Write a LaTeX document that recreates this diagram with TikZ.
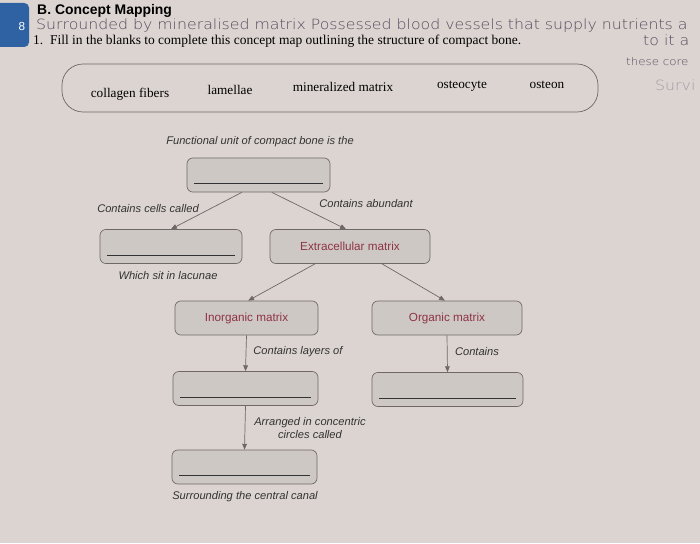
\documentclass[tikz,border=0pt]{standalone}
\usepackage{fontspec}
\setmainfont{Liberation Serif}
\setsansfont{Liberation Sans}
\newfontfamily\handfont[FakeStretch=1.12]{DejaVu Sans ExtraLight}
\usetikzlibrary{arrows.meta,positioning}
\definecolor{paper}{HTML}{DCD4D0}
\definecolor{boxfill}{HTML}{CEC8C5}
\definecolor{boxedge}{HTML}{6F6866}
\definecolor{maroon}{HTML}{8E3344}
\definecolor{pen}{HTML}{544A60}
\definecolor{tabblue}{HTML}{2F62A3}

\begin{document}
\begin{tikzpicture}[x=0.3mm,y=-0.3mm,
  conceptbox/.style={draw=boxedge,fill=boxfill,rounded corners=5pt,line width=0.6pt,
    minimum height=10.2mm,inner sep=0pt,text=maroon,font=\sffamily\fontsize{10}{11}\selectfont},
  blank/.style={draw=black!80,line width=0.6pt},
  link/.style={draw=boxedge,line width=0.6pt,-{Triangle[length=5pt,width=4pt]}},
  linklabel/.style={text=black!80,font=\sffamily\itshape\fontsize{9.5}{11}\selectfont,align=center,inner sep=1pt},
  bankword/.style={font=\fontsize{11.3}{13}\selectfont,inner sep=1pt},
  hand/.style={text=pen,font=\handfont\fontsize{12}{14}\selectfont,inner sep=0pt,anchor=base west}]

% paper
\fill[paper] (0,0) rectangle (700,543);
\useasboundingbox (0,0) rectangle (700,543);

% header
\fill[tabblue,rounded corners=4pt] (-10,3) rectangle (29,47);
\node[text=white,font=\sffamily\fontsize{10}{12}\selectfont] (tabnum) at (22,26) {8};
\node[anchor=base west,font=\sffamily\bfseries\fontsize{11.9}{14}\selectfont,inner sep=0pt] (section) at (37,15) {B. Concept Mapping};
\node[hand] (note) at (36,30) {Surrounded by mineralised matrix Possessed blood vessels that supply nutrients a};
\node[anchor=base west,font=\fontsize{11.5}{13}\selectfont,inner sep=0pt] (task) at (33,44) {1.\enspace Fill in the blanks to complete this concept map outlining the structure of compact bone.};
\node[hand] (noteb) at (643,46) {to it a};
\node[hand,font=\handfont\fontsize{9}{10}\selectfont] (notec) at (626,66) {these core};
\node[hand,text=pen!55] (noted) at (655,90) {Survi};

% word bank
\draw[boxedge,line width=0.6pt,rounded corners=18pt] (62,64) rectangle (598,112);
\node[bankword] (wcollagen) at (130,94) {collagen fibers};
\node[bankword] (wlamellae) at (230,90) {lamellae};
\node[bankword] (wmatrix) at (343,87) {mineralized matrix};
\node[bankword] (wosteocyte) at (462,86) {osteocyte};
\node[bankword] (wosteon) at (547,85) {osteon};

% concept map
\node[linklabel] (lunit) at (260,142) {Functional unit of compact bone is the};
\node[conceptbox,minimum width=42.9mm] (osteon) at (258.5,175) {};
\node[conceptbox,minimum width=42.6mm] (osteocyte) at (171,246.5) {};
\node[conceptbox,minimum width=48mm] (ecm) at (350,246.5) {Extracellular matrix};
\node[conceptbox,minimum width=42.9mm] (inorganic) at (246.5,318) {Inorganic matrix};
\node[conceptbox,minimum width=45mm] (organic) at (447,318) {Organic matrix};
\node[conceptbox,minimum width=43.5mm] (lamellae) at (245.5,388.5) {};
\node[conceptbox,minimum width=45.3mm] (fibers) at (447.5,389.5) {};
\node[conceptbox,minimum width=43.5mm] (rings) at (244.5,467) {};

% blank lines
\foreach \b in {osteon,osteocyte,lamellae,fibers,rings}
  \draw[blank] ([xshift=2.2mm,yshift=2.6mm]\b.south west) -- ([xshift=-2.2mm,yshift=2.6mm]\b.south east);

% connectors
\draw[link] ([xshift=-5mm]osteon.south) -- (osteocyte.north);
\draw[link] ([xshift=4mm]osteon.south) -- ([xshift=-1.2mm]ecm.north);
\draw[link] ([xshift=-10.5mm]ecm.south) -- ([xshift=0.5mm]inorganic.north);
\draw[link] ([xshift=9.6mm]ecm.south) -- ([xshift=-0.6mm]organic.north);
\draw[link] (inorganic.south) -- (lamellae.north);
\draw[link] (organic.south) -- (fibers.north);
\draw[link] (lamellae.south) -- (rings.north);

% connector labels
\node[linklabel] (lcells) at (148,209) {Contains cells called};
\node[linklabel] (labundant) at (366,204) {Contains abundant};
\node[linklabel] (llacunae) at (168,276) {Which sit in lacunae};
\node[linklabel] (llayers) at (298,352) {Contains layers of};
\node[linklabel] (lcontains) at (477,352) {Contains};
\node[linklabel] (lcircles) at (310,428) {Arranged in concentric\\ circles called};
\node[linklabel] (lcanal) at (245,497) {Surrounding the central canal};
\end{tikzpicture}
\end{document}
